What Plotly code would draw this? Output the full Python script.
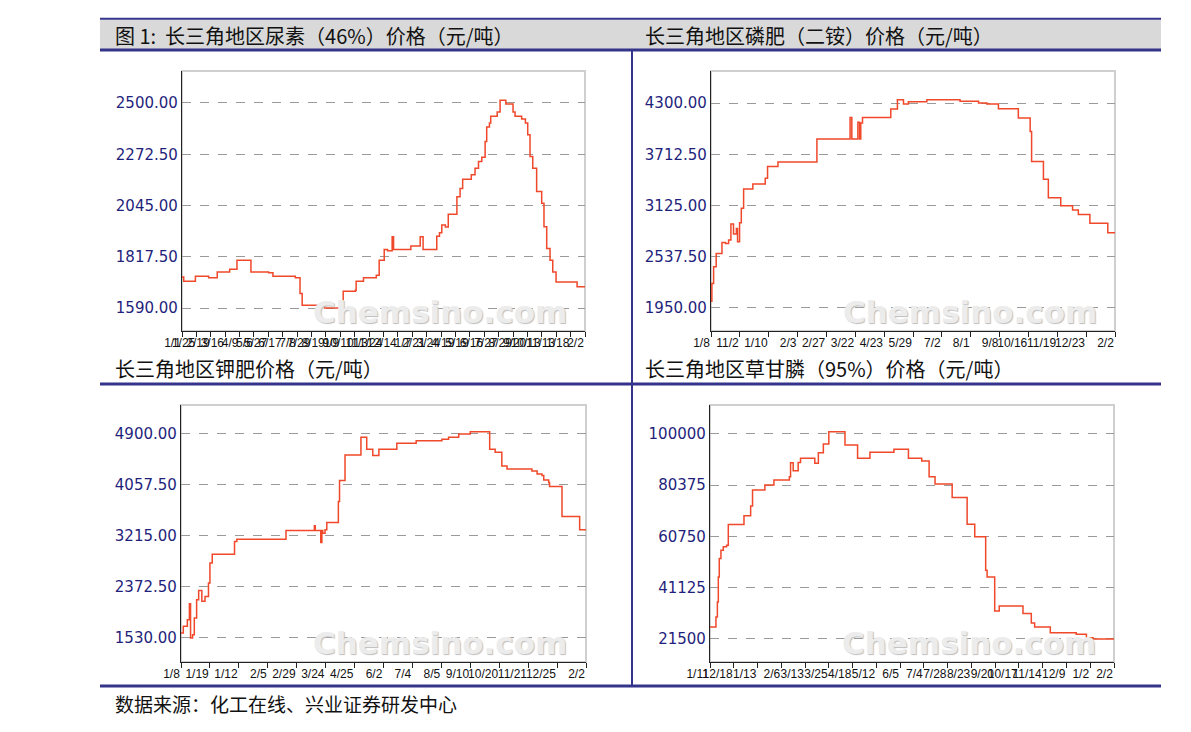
import plotly.graph_objects as go

W, H = 1191, 732

# ---------------- data ----------------
# x positions are measured in tick-interval units (0 = first tick label)
urea_ticks = ["1/1", "1/25", "2/19", "3/16", "4/9", "5/6", "5/27", "6/17", "7/8", "7/29",
              "8/19", "9/9", "10/10", "11/3", "11/24", "12/14", "1/7", "2/21", "3/24", "4/19",
              "5/19", "6/16", "7/27", "8/29", "9/20", "10/13", "11/13", "1/18", "2/2"]
urea_x = [0, 0.12, 0.93, 1.85, 2.45, 3.31, 3.82, 4.79, 6.02, 6.32, 7.87, 8.2, 8.35, 9.9,
          11.05, 11.2, 12.05, 12.1, 12.61, 13.5, 13.7, 14.05, 14.28, 14.6, 14.7, 15.9,
          16.55, 16.75, 17.7, 17.89, 18.05, 18.3, 18.5, 19.1, 19.32, 19.5, 20.1, 20.36,
          20.6, 20.83, 21.06, 21.17, 21.36, 21.45, 21.9, 22.1, 22.5, 23.0, 23.14, 23.6,
          23.86, 24.02, 24.18, 24.37, 24.64, 24.99, 25.15, 25.34, 25.57, 25.76, 25.99,
          27.45, 28]
urea_y = [1728, 1709, 1731, 1724, 1750, 1762, 1802, 1750, 1746, 1731, 1724, 1654, 1602, 1590,
          1617, 1664, 1669, 1709, 1724, 1735, 1802, 1850, 1844, 1906, 1850, 1865,
          1906, 1850, 1909, 1924, 1958, 1950, 2006, 2084, 2121, 2161, 2181, 2210,
          2240, 2259, 2329, 2393, 2411, 2441, 2460, 2512, 2496, 2460, 2441, 2429,
          2411, 2359, 2262, 2210, 2107, 2055, 1951, 1854, 1802, 1750, 1706,
          1684, 1684]

dap_ticks = ["1/8", "11/2", "1/10", "2/3", "2/27", "3/22", "4/23", "5/29", "7/2", "8/1",
             "9/8", "10/16", "11/19", "12/23", "2/2"]
dap_x = [0, 0.03, 0.09, 0.18, 0.38, 0.50, 0.61, 0.69, 0.78, 0.88, 0.92, 0.99, 1.05, 1.13,
         1.45, 1.88, 1.96, 2.32, 3.67, 4.82, 4.88, 5.09, 5.15, 5.19, 5.25, 6.23, 6.46,
         6.67, 6.84, 7.48, 8.63, 9.27, 9.56, 9.96, 10.65, 11.06, 11.11, 11.52, 11.69,
         12.12, 12.53, 12.73, 13.13, 13.75, 14]
dap_y = [2027, 2230, 2422, 2575, 2701, 2690, 2728, 2912, 2797, 2862, 2709, 2928, 3092, 3315,
         3372, 3437, 3572, 3625, 3886, 4135, 3886, 4078, 3886, 4070, 4135, 4231, 4338,
         4288, 4315, 4338, 4319, 4300, 4288, 4235, 4127, 3974, 3629, 3426, 3215,
         3123, 3073, 3023, 2920, 2813, 2813]

potash_ticks = ["1/8", "1/19", "1/12", "2/5", "2/29", "3/24", "4/25", "6/2", "7/4", "8/5",
                "9/10", "10/20", "11/21", "12/25", "2/2"]
potash_x = [0, 0.08, 0.22, 0.29, 0.33, 0.40, 0.46, 0.54, 0.61, 0.72, 0.83, 0.95, 1.00, 1.08,
            1.85, 1.93, 3.63, 4.61, 4.64, 4.83, 4.87, 4.90, 4.98, 5.04, 5.44, 5.48, 5.67,
            6.22, 6.42, 6.63, 6.84, 7.46, 8.13, 9.02, 9.25, 9.60, 10.0, 10.67, 10.86,
            11.09, 11.27, 12.13, 12.31, 12.48, 12.54, 12.71, 12.74, 13.17, 13.78, 14]
potash_y = [1612, 1722, 1832, 2096, 1530, 1585, 1860, 2162, 2316, 2135, 2217, 2437, 2767, 2915,
            3124, 3163, 3306, 3383, 3306, 3108, 3306, 3262, 3317, 3438, 3784, 4130, 4554,
            4845, 4647, 4543, 4647, 4746, 4790, 4812, 4845, 4900, 4938, 4647, 4598,
            4372, 4323, 4290, 4240, 4213, 4141, 4097, 4031, 3537, 3317, 3317]

gly_ticks = ["1/11", "12/18", "1/13", "2/6", "3/13", "3/25", "4/18", "5/12", "6/5", "7/4",
             "7/28", "8/23", "9/20", "10/17", "11/14", "12/9", "1/2", "2/2"]
gly_x = [0, 0.21, 0.25, 0.31, 0.35, 0.39, 0.46, 0.56, 0.70, 0.77, 1.43, 1.71, 1.79, 2.31,
         2.69, 3.34, 3.39, 3.50, 3.71, 3.81, 4.41, 4.56, 4.77, 5.00, 5.68, 6.21, 6.73,
         7.74, 8.35, 8.91, 9.22, 9.47, 10.19, 10.82, 11.14, 11.60, 11.66, 11.98, 12.17,
         13.17, 13.52, 13.66, 14.32, 15.41, 15.84, 16.12, 17]
gly_y = [26100, 26100, 29940, 35690, 45280, 52310, 55510, 56790, 57430, 65350, 68680, 72380,
         78520, 80440, 82360, 83640, 89000, 85940, 89130, 90670, 88750, 92840, 96160,
         100900, 95780, 90670, 92970, 94120, 90670, 89640, 83640, 80820, 75710, 65480,
         60620, 47840, 45280, 32240, 34160, 31220, 27640, 26100, 23930, 23290, 22010,
         21500, 21500]

urea_yticks = [1590, 1817.5, 2045, 2272.5, 2500]
dap_yticks = [1950, 2537.5, 3125, 3712.5, 4300]
potash_yticks = [1530, 2372.5, 3215, 4057.5, 4900]
gly_yticks = [21500, 41125, 60750, 80375, 100000]

titles = ["图 1:  长三角地区尿素（46%）价格（元/吨）",
          "长三角地区磷肥（二铵）价格（元/吨）",
          "长三角地区钾肥价格（元/吨）",
          "长三角地区草甘膦（95%）价格（元/吨）"]
source = "数据来源：化工在线、兴业证券研发中心"
watermark = "Chemsino.com"

# ---------------- layout helpers ----------------
def PX(x):
    return x / W

def PY(y):
    return 1 - y / H

LINE = "#f0482a"
NAVY = "#1f1f7c"
BLUE = "#34348c"

panels = [
    dict(x=urea_x, y=urea_y, ticks=urea_ticks, yt=urea_yticks, fmt=".2f",
         xdom=(182, 585), ydom=(71, 331), yr=(1488, 2642)),
    dict(x=dap_x, y=dap_y, ticks=dap_ticks, yt=dap_yticks, fmt=".2f",
         xdom=(711, 1115), ydom=(71, 331), yr=(1686, 4667)),
    dict(x=potash_x, y=potash_y, ticks=potash_ticks, yt=potash_yticks, fmt=".2f",
         xdom=(181, 586), ydom=(405, 662), yr=(1133, 5379)),
    dict(x=gly_x, y=gly_y, ticks=gly_ticks, yt=gly_yticks, fmt="d",
         xdom=(710, 1114), ydom=(405, 662), yr=(12690, 111100)),
]

fig = go.Figure()
layout = dict(
    width=W, height=H, margin=dict(l=0, r=0, t=0, b=0, autoexpand=False),
    paper_bgcolor="white", plot_bgcolor="white", showlegend=False,
)
shapes = []
annotations = []

for i, p in enumerate(panels, start=1):
    sfx = "" if i == 1 else str(i)
    fig.add_trace(go.Scatter(
        x=p["x"], y=p["y"], mode="lines",
        line=dict(color=LINE, width=1.5, shape="hv"),
        xaxis="x" + sfx, yaxis="y" + sfx, hoverinfo="skip",
    ))
    n = len(p["ticks"]) - 1
    layout["xaxis" + sfx] = dict(
        domain=[PX(p["xdom"][0]), PX(p["xdom"][1])],
        range=[0, n], anchor="y" + sfx, automargin=False,
        tickmode="array", tickvals=list(range(n + 1)), ticktext=p["ticks"],
        ticks="outside", ticklen=5, tickcolor="#222", tickwidth=1,
        ticklabelposition="outside left",
        tickfont=dict(family="Liberation Sans, Arial", size=12, color="#111"),
        showline=True, linecolor="#222", linewidth=1.3,
        showgrid=False, zeroline=False, tickangle=0,
    )
    layout["yaxis" + sfx] = dict(
        domain=[PY(p["ydom"][1]), PY(p["ydom"][0])],
        range=list(p["yr"]), anchor="x" + sfx, automargin=False,
        tickmode="array", tickvals=p["yt"], tickformat=p["fmt"],
        ticks="", showline=True, linecolor="#222", linewidth=1.3,
        showgrid=True, gridcolor="#9a9a9a", griddash="dash", gridwidth=1,
        zeroline=False,
        tickfont=dict(family="DejaVu Sans, Verdana", size=15, color=NAVY),
    )
    # light grey frame on top / right
    shapes.append(dict(type="rect", xref="x%s domain" % sfx, yref="y%s domain" % sfx,
                       x0=0, x1=1, y0=0, y1=1, line=dict(color="#cfcfcf", width=2),
                       layer="below"))
    annotations.append(dict(
        text=watermark, xref="x%s domain" % sfx, yref="y%s domain" % sfx,
        x=0.64, y=0.075, xanchor="center", yanchor="middle", showarrow=False,
        font=dict(family="DejaVu Sans", size=31, color="#ececec", weight="bold",
                  shadow="1px 1px 1px #bdbdbd"),
    ))

# header band and separators
shapes += [
    dict(type="rect", xref="paper", yref="paper", x0=PX(100), x1=PX(1161),
         y0=PY(49), y1=PY(19.5), fillcolor="#d9d9d9", line=dict(width=0), layer="below"),
    dict(type="line", xref="paper", yref="paper", x0=PX(100), x1=PX(1161),
         y0=PY(18.7), y1=PY(18.7), line=dict(color=BLUE, width=2)),
    dict(type="line", xref="paper", yref="paper", x0=PX(100), x1=PX(1161),
         y0=PY(50), y1=PY(50), line=dict(color=BLUE, width=3)),
    dict(type="line", xref="paper", yref="paper", x0=PX(100), x1=PX(1161),
         y0=PY(384), y1=PY(384), line=dict(color=BLUE, width=3)),
    dict(type="line", xref="paper", yref="paper", x0=PX(100), x1=PX(1161),
         y0=PY(686), y1=PY(686), line=dict(color=BLUE, width=3)),
    dict(type="line", xref="paper", yref="paper", x0=PX(632), x1=PX(632),
         y0=PY(51), y1=PY(686), line=dict(color=BLUE, width=2)),
]

title_pos = [(113, 35), (643, 35), (113, 368), (643, 368)]
for t, (tx, ty) in zip(titles, title_pos):
    annotations.append(dict(
        text=t, xref="paper", yref="paper", x=PX(tx), y=PY(ty),
        xanchor="left", yanchor="middle", showarrow=False,
        font=dict(family="Noto Sans CJK SC", size=20, color="#111"),
    ))
annotations.append(dict(
    text=source, xref="paper", yref="paper", x=PX(113), y=PY(703),
    xanchor="left", yanchor="middle", showarrow=False,
    font=dict(family="Noto Sans CJK SC", size=19, color="#111"),
))

layout["shapes"] = shapes
layout["annotations"] = annotations
fig.update_layout(**layout)
fig.write_html("out.html")
